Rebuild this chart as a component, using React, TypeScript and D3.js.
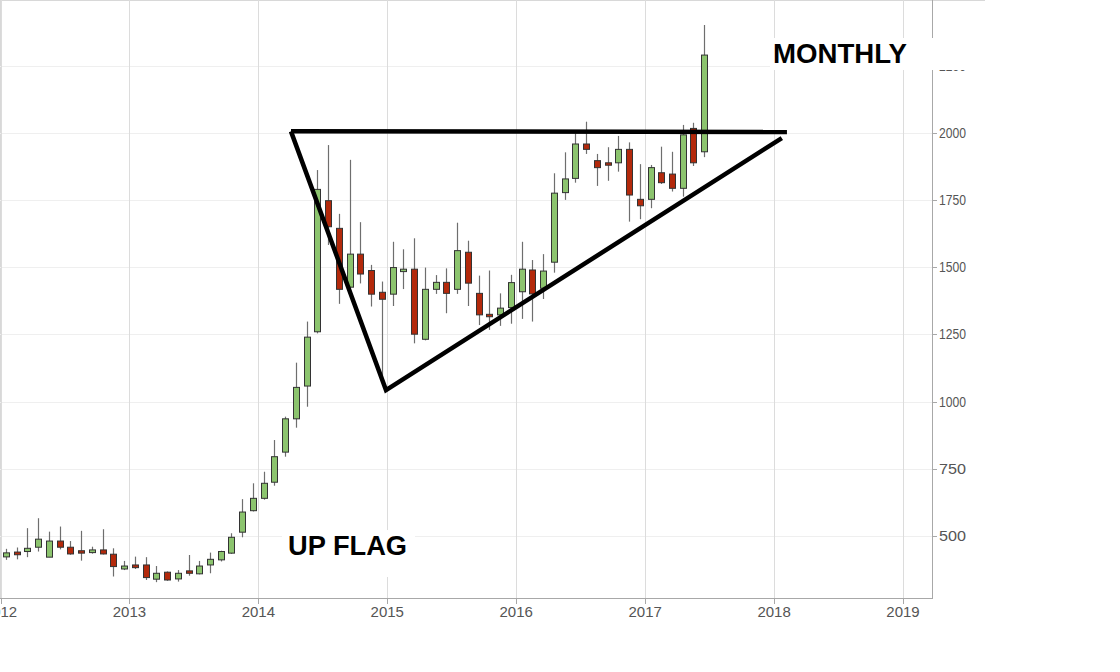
import React from 'react';
import * as d3 from 'd3';

// Monthly candles, Jan 2012 .. Jun 2017
const months = [
  '2012-01','2012-02','2012-03','2012-04','2012-05','2012-06','2012-07','2012-08','2012-09','2012-10','2012-11','2012-12',
  '2013-01','2013-02','2013-03','2013-04','2013-05','2013-06','2013-07','2013-08','2013-09','2013-10','2013-11','2013-12',
  '2014-01','2014-02','2014-03','2014-04','2014-05','2014-06','2014-07','2014-08','2014-09','2014-10','2014-11','2014-12',
  '2015-01','2015-02','2015-03','2015-04','2015-05','2015-06','2015-07','2015-08','2015-09','2015-10','2015-11','2015-12',
  '2016-01','2016-02','2016-03','2016-04','2016-05','2016-06','2016-07','2016-08','2016-09','2016-10','2016-11','2016-12',
  '2017-01','2017-02','2017-03','2017-04','2017-05','2017-06',
];
const opens = [
  422, 440, 442, 458, 421, 481, 458, 445, 438, 448, 432, 377,
  392, 392, 339, 365, 340, 370, 359, 392, 411, 436, 514, 594,
  640, 700, 812, 936, 1058, 1260, 1748, 1645, 1426, 1549, 1488, 1407,
  1400, 1484, 1493, 1232, 1418, 1444, 1418, 1556, 1403, 1325, 1323, 1350,
  1409, 1490, 1422, 1519, 1778, 1831, 1959, 1897, 1889, 1889, 1939, 1753,
  1753, 1852, 1847, 1794, 2017, 1930,
];
const highs = [
  452, 457, 529, 566, 516, 535, 481, 519, 460, 525, 454, 407,
  423, 421, 388, 368, 373, 429, 407, 438, 445, 510, 637, 696,
  739, 857, 944, 1145, 1298, 1862, 1955, 1699, 1900, 1668, 1509, 1447,
  1595, 1567, 1608, 1499, 1471, 1496, 1666, 1599, 1469, 1488, 1403, 1472,
  1595, 1527, 1549, 1850, 1928, 1999, 2042, 1922, 1947, 1989, 1965, 1884,
  1881, 1949, 1930, 2030, 2038, 2402,
];
const lows = [
  411, 413, 421, 442, 421, 450, 430, 408, 434, 431, 349, 373,
  377, 336, 328, 333, 330, 352, 357, 361, 405, 433, 495, 591,
  635, 687, 795, 903, 981, 1254, 1583, 1364, 1410, 1440, 1354, 1093,
  1356, 1419, 1217, 1228, 1401, 1329, 1401, 1356, 1285, 1267, 1282, 1290,
  1308, 1298, 1382, 1480, 1751, 1815, 1922, 1803, 1822, 1856, 1670, 1679,
  1720, 1810, 1782, 1763, 1877, 1910,
];
const closes = [
  437, 430, 454, 488, 481, 458, 433, 436, 448, 433, 386, 388,
  382, 345, 361, 336, 361, 361, 388, 413, 442, 495, 589, 640,
  696, 795, 936, 1053, 1240, 1790, 1651, 1418, 1549, 1475, 1400, 1381,
  1499, 1493, 1251, 1418, 1444, 1403, 1562, 1441, 1323, 1316, 1348, 1443,
  1493, 1401, 1486, 1776, 1829, 1959, 1939, 1871, 1880, 1939, 1769, 1729,
  1871, 1815, 1794, 1993, 1889, 2290,
];

const yTicks = [500, 750, 1000, 1250, 1500, 1750, 2000, 2250];
const yearTicks = [2012, 2013, 2014, 2015, 2016, 2017, 2018, 2019];

// Hand-drawn flag annotation, in [decimal year, price]
const flagTopLine = [[2014.253, 2006], [2018.10, 2004]];
const flagLowerLine = [[2014.253, 2006], [2014.99, 1043], [2018.06, 1981]];

const labelTop = 'MONTHLY';
const labelBottom = 'UP FLAG';

const W = 1120;
const H = 672;
const PLOT_RIGHT = 932;
const PLOT_BOTTOM = 598;

export default function App() {
  const x = d3.scaleLinear().domain([2012, 2019]).range([0.5, 903]);
  const y = d3.scaleLinear().domain([269, 2495]).range([PLOT_BOTTOM, 0]);

  const candles = months.map((m, i) => {
    const [yr, mo] = m.split('-').map(Number);
    const t = yr + (mo - 1 + 0.5) / 12;
    return { t, o: opens[i], h: highs[i], l: lows[i], c: closes[i] };
  });

  const line = d3.line<number[]>().x((d) => x(d[0])).y((d) => y(d[1]));
  const bodyW = 6;
  const font = '"Liberation Sans", Arial, sans-serif';

  return (
    <svg width={W} height={H} style={{ position: 'absolute', left: 0, top: 0, background: '#fff' }}>
      <rect x={0} y={0} width={W} height={H} fill="#fff" />
      {/* frame */}
      <line x1={0} x2={985} y1={0.5} y2={0.5} stroke="#d8d8d8" />
      <line x1={1} x2={1} y1={0} y2={PLOT_BOTTOM} stroke="#d8d8d8" strokeWidth={2} />
      {/* horizontal grid */}
      {yTicks.map((v) => (
        <line key={'hg' + v} x1={0} x2={PLOT_RIGHT} y1={Math.round(y(v)) + 0.5} y2={Math.round(y(v)) + 0.5} stroke="#efefef" />
      ))}
      {/* vertical grid */}
      {yearTicks.map((yr) => (
        <line key={'vg' + yr} x1={Math.round(x(yr)) + 0.5} x2={Math.round(x(yr)) + 0.5} y1={0} y2={PLOT_BOTTOM} stroke="#dcdcdc" />
      ))}
      {/* candles */}
      {candles.map((d, i) => {
        const cx = Math.round(x(d.t)) + 0.5;
        const up = d.c >= d.o;
        const top = y(Math.max(d.o, d.c));
        const bot = y(Math.min(d.o, d.c));
        const hgt = Math.max(2, bot - top);
        return (
          <g key={'c' + i}>
            <line x1={cx} x2={cx} y1={y(d.h)} y2={y(d.l)} stroke="#6e6e6e" strokeWidth={1.2} />
            <rect
              x={cx - bodyW / 2}
              y={top}
              width={bodyW}
              height={hgt}
              fill={up ? '#8cc46e' : '#b3290b'}
              stroke="#333"
              strokeWidth={1}
            />
          </g>
        );
      })}
      {/* axes */}
      <line x1={0} x2={PLOT_RIGHT} y1={PLOT_BOTTOM + 0.5} y2={PLOT_BOTTOM + 0.5} stroke="#a8a8a8" />
      <line x1={PLOT_RIGHT + 0.5} x2={PLOT_RIGHT + 0.5} y1={0} y2={PLOT_BOTTOM + 1} stroke="#a8a8a8" />
      {yearTicks.map((yr) => (
        <g key={'xt' + yr}>
          <line x1={Math.round(x(yr)) + 0.5} x2={Math.round(x(yr)) + 0.5} y1={PLOT_BOTTOM} y2={PLOT_BOTTOM + 6} stroke="#a8a8a8" />
          <text x={x(yr)} y={617} textAnchor="middle" fontFamily={font} fontSize={15} fill="#555">
            {yr}
          </text>
        </g>
      ))}
      {yTicks.map((v) => (
        <g key={'yt' + v}>
          <line x1={PLOT_RIGHT} x2={PLOT_RIGHT + 5} y1={Math.round(y(v)) + 0.5} y2={Math.round(y(v)) + 0.5} stroke="#a8a8a8" />
          <text
            x={939}
            y={y(v) + 5}
            fontFamily={font}
            fontSize={14.5}
            fill="#555"
            textLength={27}
            lengthAdjust="spacingAndGlyphs"
          >
            {v}
          </text>
        </g>
      ))}
      {/* flag annotation */}
      <path d={line(flagTopLine) || ''} fill="none" stroke="#000" strokeWidth={4.5} strokeLinecap="butt" />
      <path d={line(flagLowerLine) || ''} fill="none" stroke="#000" strokeWidth={4.5} strokeLinejoin="miter" strokeLinecap="butt" />
      {/* labels */}
      <rect x={770} y={38} width={205} height={32} fill="#fff" />
      <text x={773} y={63} fontFamily={font} fontWeight="bold" fontSize={27} fill="#000" textLength={134} lengthAdjust="spacingAndGlyphs">
        {labelTop}
      </text>
      <rect x={282} y={530} width={133} height={47} fill="#fff" />
      <text x={288} y={555} fontFamily={font} fontWeight="bold" fontSize={27} fill="#000" textLength={119} lengthAdjust="spacingAndGlyphs">
        {labelBottom}
      </text>
    </svg>
  );
}
